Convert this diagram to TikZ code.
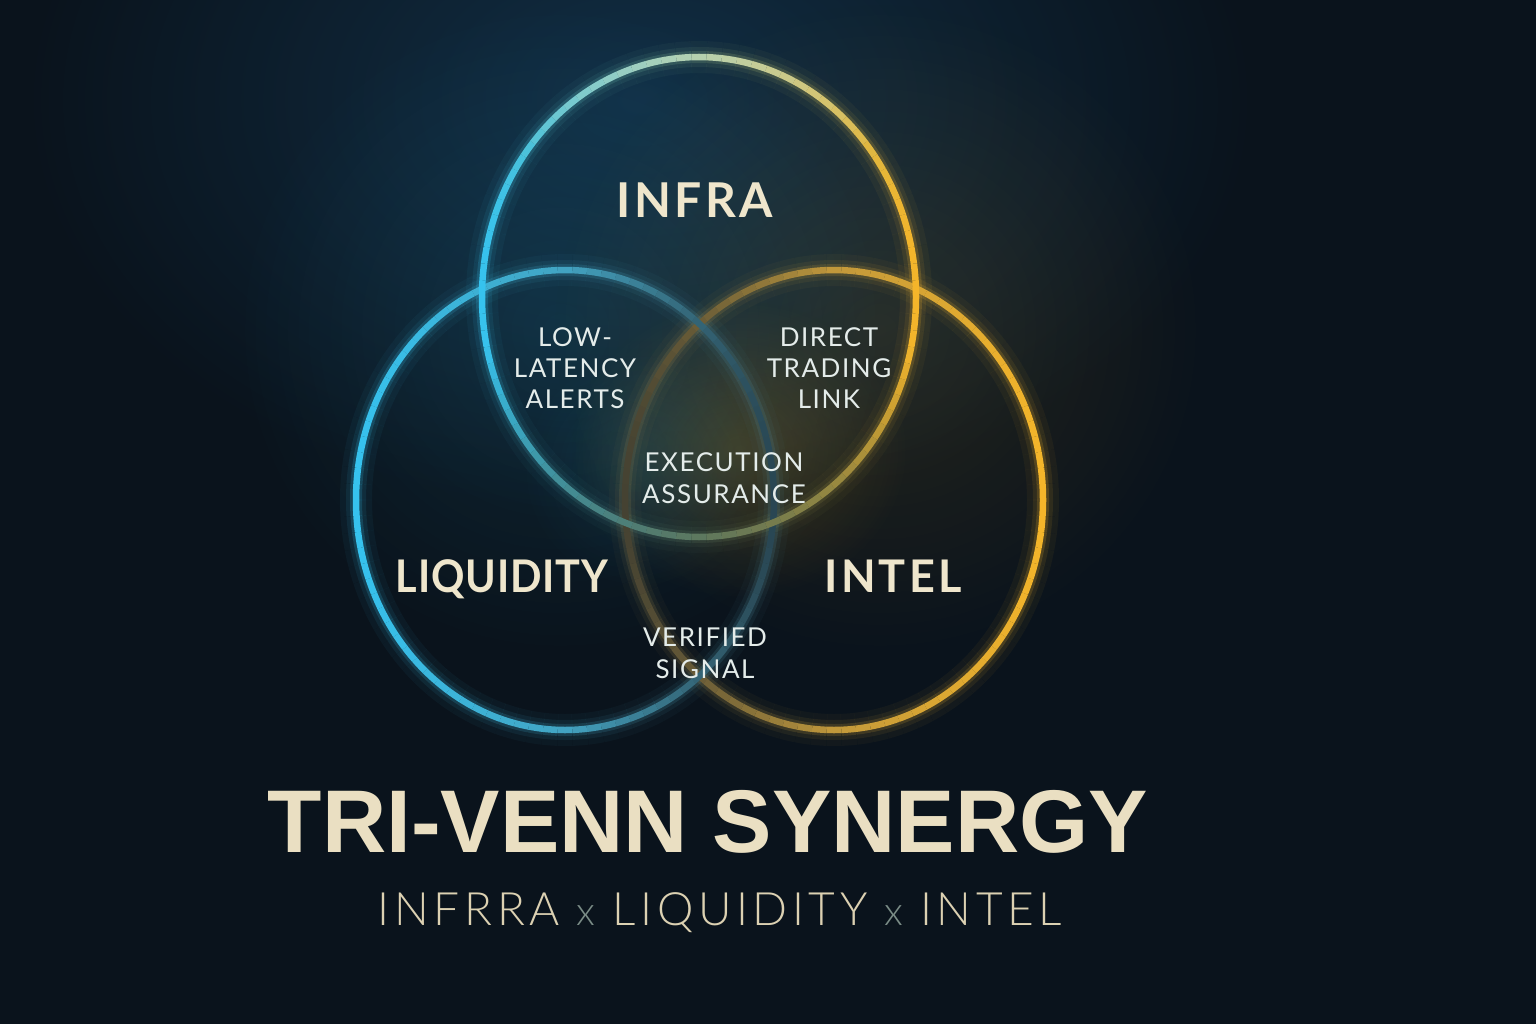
\documentclass[tikz,border=0pt]{standalone}
\usepackage{fontspec}
\setmainfont{Lato}
\newfontfamily\labfont{Lato}[LetterSpace=6]
\newfontfamily\bigfont{Lato}[LetterSpace=7]
\newfontfamily\liqfont{Lato}[LetterSpace=2]
\newfontfamily\titlefont{Liberation Sans}
\newfontfamily\subfont{Lato Light}[LetterSpace=10]
\usetikzlibrary{fadings}
\tikzfading[name=glowfade, inner color=transparent!0, outer color=transparent!100]
\definecolor{bg}{HTML}{0A131C}
\definecolor{bgblue}{HTML}{12324A}
\definecolor{cyanC}{HTML}{36C2EE}
\definecolor{goldC}{HTML}{F4B52A}
\definecolor{dimBlue}{HTML}{4E8596}
\definecolor{dimGold}{HTML}{8E7C4C}
\definecolor{cream}{HTML}{EFE6CC}
\definecolor{labwhite}{HTML}{E4ECEA}
\definecolor{titlecol}{HTML}{EADFC2}
\definecolor{subcol}{HTML}{DCD1B2}
\definecolor{xcol}{HTML}{7A8C86}
\tikzset{
  biglab/.style={anchor=base, text=cream, inner sep=0pt, font=\bigfont\bfseries\fontsize{48}{56}\selectfont},
  smalllab/.style={anchor=base, text=labwhite, inner sep=0pt, font=\labfont\fontsize{26}{30}\selectfont},
}
\begin{document}
\begin{tikzpicture}[x=1pt,y=-1pt]
\useasboundingbox (0,0) rectangle (1536,1024);
\fill[bg] (0,0) rectangle (1536,1024);
% background glows
\fill[bgblue, opacity=.9, path fading=glowfade] (640,100) ellipse (620 and 420);
\fill[cyanC, opacity=.12, path fading=glowfade] (560,330) ellipse (330 and 330);
\fill[goldC, opacity=.12, path fading=glowfade] (880,330) ellipse (330 and 330);
\fill[goldC, opacity=.18, path fading=glowfade] (740,450) ellipse (170 and 150);
\fill[cyanC, opacity=.10, path fading=glowfade] (640,470) ellipse (120 and 120);
% ---- glow passes
\foreach \lw/\op in {32/0.05, 20/0.09, 12/0.18}{
  % top ring
  \foreach \a in {0,4,...,356}{
    \pgfmathsetmacro\f{50-50*cos(\a+2)}
    \pgfmathsetmacro\g{sin(\a+2)>0.2 ? 100-45*(sin(\a+2)-0.2) : 100}
    \draw[line width=\lw, opacity=\op, color=cyanC!\f!goldC!\g!bg]
      ({699+217*cos(\a)},{297+240*sin(\a)}) arc[start angle=\a, delta angle=4, x radius=217, y radius=240];
  }
  % left ring
  \foreach \a in {0,4,...,356}{
    \pgfmathsetmacro\f{50-50*cos(\a+2)}
    \draw[line width=\lw, opacity=\op, color=cyanC!\f!dimBlue]
      ({565+209*cos(\a)},{500+230*sin(\a)}) arc[start angle=\a, delta angle=4, x radius=209, y radius=230];
  }
  % right ring
  \foreach \a in {0,4,...,356}{
    \pgfmathsetmacro\f{50+50*cos(\a+2)}
    \draw[line width=\lw, opacity=\op, color=goldC!\f!dimGold]
      ({834+209*cos(\a)},{500+230*sin(\a)}) arc[start angle=\a, delta angle=4, x radius=209, y radius=230];
  }
}
% ---- core rings
\foreach \a in {0,4,...,356}{
  \pgfmathsetmacro\f{50+50*cos(\a+2)}
  \pgfmathsetmacro\g{cos(\a+2)<0 ? 100+55*cos(\a+2) : 100}
  \draw[line width=6.5, color=goldC!\f!dimGold!\g!bg]
    ({834+209*cos(\a)},{500+230*sin(\a)}) arc[start angle=\a, delta angle=4, x radius=209, y radius=230];
}
\foreach \a in {0,4,...,356}{
  \pgfmathsetmacro\f{50-50*cos(\a+2)}
  \pgfmathsetmacro\g{cos(\a+2)>0 ? 100-55*cos(\a+2) : 100}
  \draw[line width=6.5, color=cyanC!\f!dimBlue!\g!bg]
    ({565+209*cos(\a)},{500+230*sin(\a)}) arc[start angle=\a, delta angle=4, x radius=209, y radius=230];
}
\foreach \a in {0,4,...,356}{
  \pgfmathsetmacro\f{50-50*cos(\a+2)}
  \pgfmathsetmacro\g{sin(\a+2)>0.2 ? 100-50*(sin(\a+2)-0.2) : 100}
  \pgfmathsetmacro\w{-sin(\a+2)>0.6 ? 100-75*(-sin(\a+2)-0.6) : 100}
  \draw[line width=6.5, color=cyanC!\f!goldC!\w!white!\g!bg]
    ({699+217*cos(\a)},{297+240*sin(\a)}) arc[start angle=\a, delta angle=4, x radius=217, y radius=240];
}
% ---- labels
\node[biglab] (infra) at (695,218) {INFRA};
\node[biglab, font=\liqfont\bfseries\fontsize{45}{52}\selectfont] (liq) at (502,592) {\scalebox{0.92}[1]{LIQUIDITY}};
\node[biglab, font=\bigfont\bfseries\fontsize{45}{52}\selectfont] (intel) at (893,592) {INTEL};
\node[smalllab] (la1) at (575,346.5) {LOW-};
\node[smalllab] (la2) at (575,377.5) {LATENCY};
\node[smalllab] (la3) at (575,408) {ALERTS};
\node[smalllab] (dt1) at (829,346.5) {DIRECT};
\node[smalllab] (dt2) at (829,377.5) {TRADING};
\node[smalllab] (dt3) at (829,408) {LINK};
\node[smalllab] (ea1) at (724,471.5) {EXECUTION};
\node[smalllab] (ea2) at (724,503.5) {ASSURANCE};
\node[smalllab] (vs1) at (705,646.5) {VERIFIED};
\node[smalllab] (vs2) at (705,678.5) {SIGNAL};
% ---- title
\node[anchor=base, inner sep=0pt, text=titlecol, font=\titlefont\bfseries\fontsize{89}{100}\selectfont] (title) at (708,852) {TRI-VENN SYNERGY};
\node[anchor=base, inner sep=0pt, text=subcol, font=\subfont\fontsize{46}{52}\selectfont] (sub) at (720,925)
  {INFRRA {\color{xcol}\fontsize{40}{46}\selectfont x} LIQUIDITY {\color{xcol}\fontsize{40}{46}\selectfont x} INTEL};
\end{tikzpicture}
\end{document}
